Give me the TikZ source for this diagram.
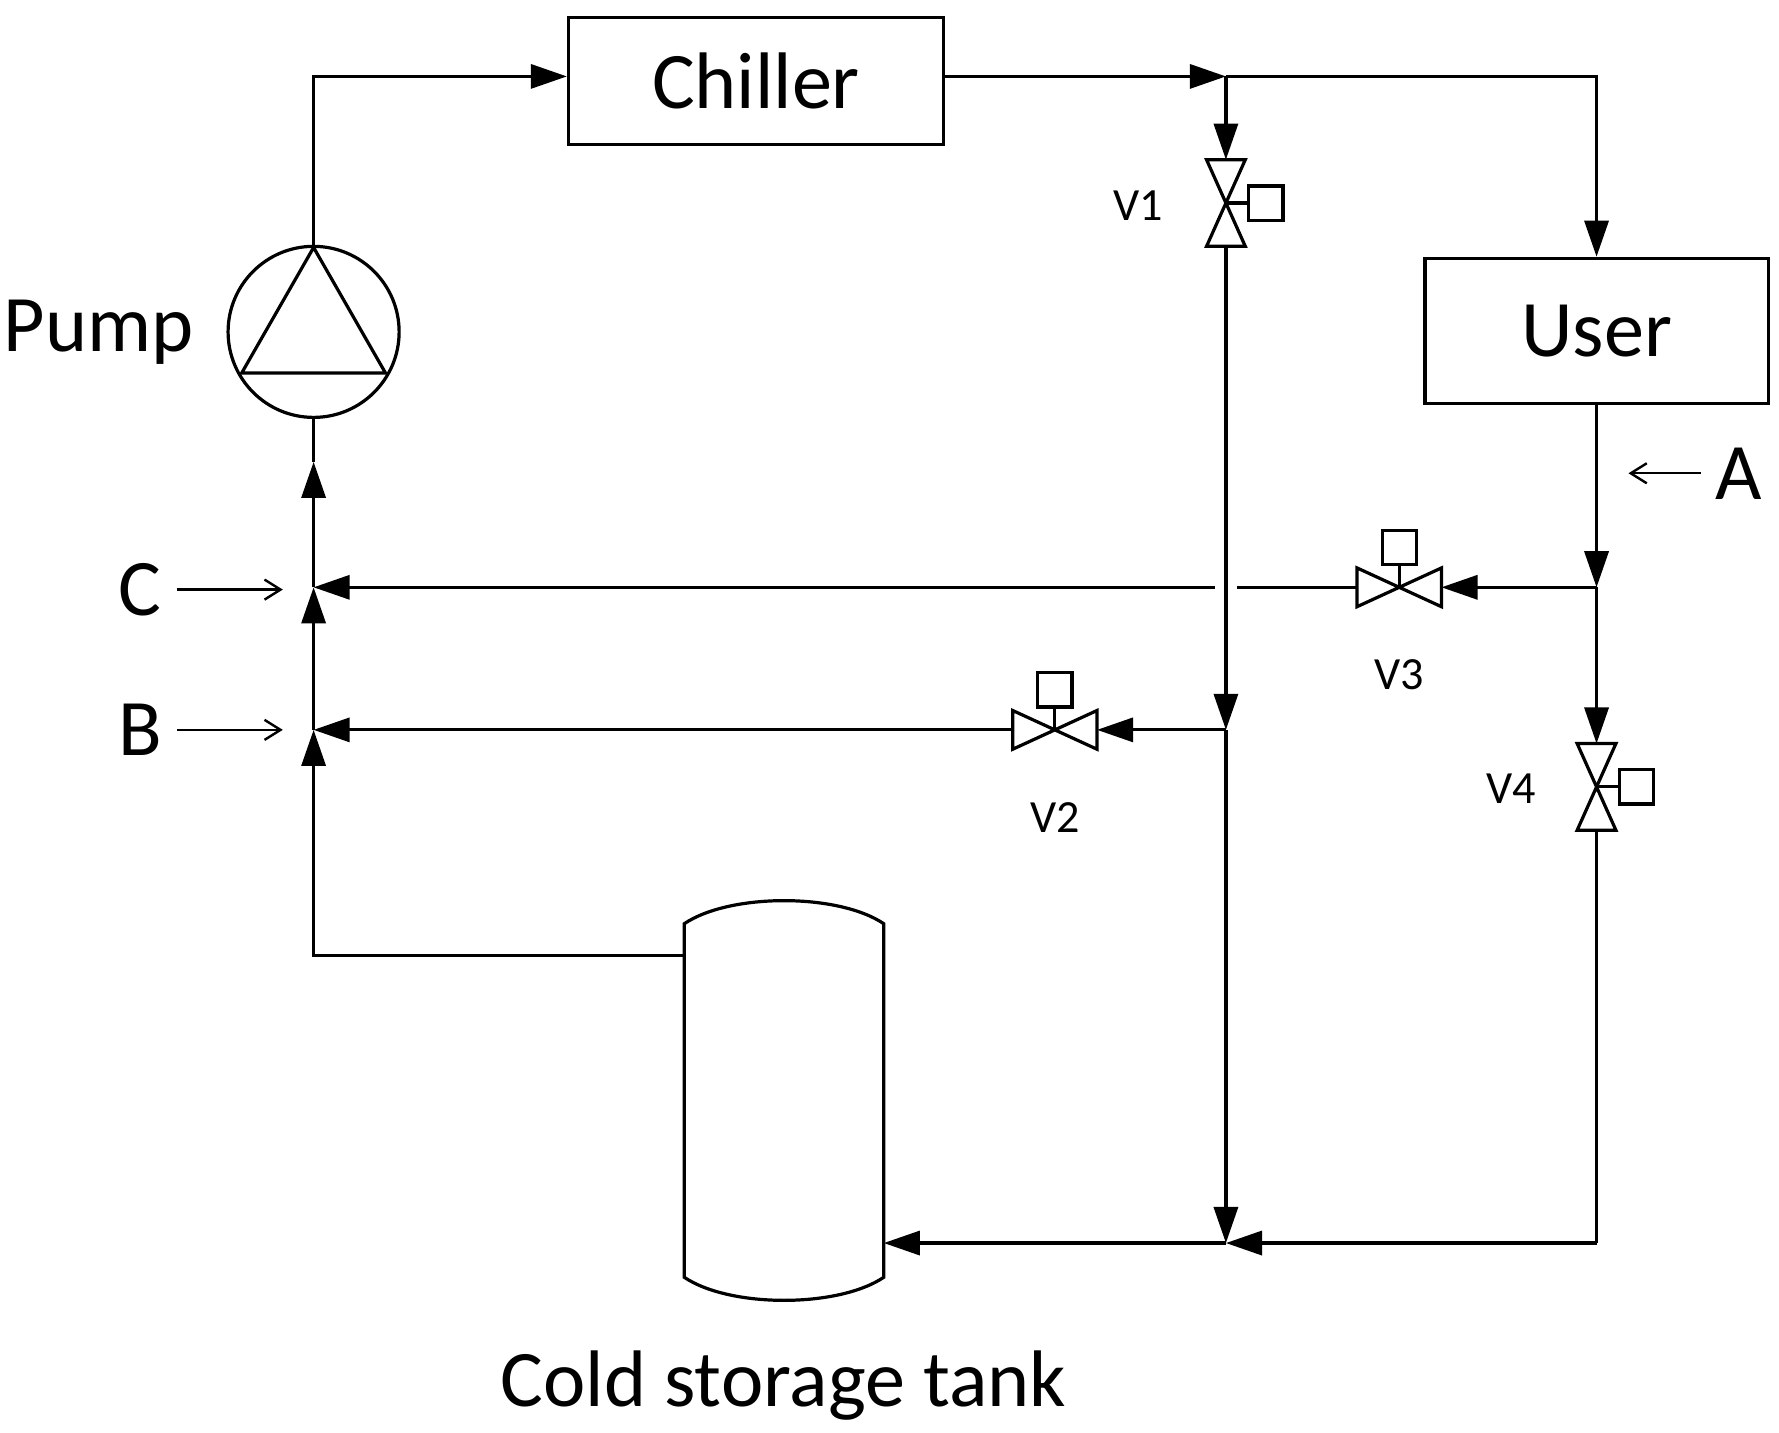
\documentclass[tikz,border=0pt]{standalone}
\usepackage{fontspec}
\setmainfont{Carlito}
\usetikzlibrary{arrows.meta,decorations.markings}
\begin{document}
\begin{tikzpicture}[x=0.01cm,y=-0.01cm,line width=0.8pt,
  flow/.style={-{Triangle[length=9pt,width=6pt]}},
  thin arrow/.style={-{Straight Barb[length=4pt,width=5pt]},line width=0.6pt},
  box/.style={draw,minimum width=329*0.01cm,inner sep=0pt},
  big/.style={font=\fontsize{20}{22}\selectfont},
  small/.style={font=\fontsize{11.5}{13}\selectfont}]
\useasboundingbox (0,0) rectangle (1560,1256);
% valve macros
\newcommand{\vvalve}[2]{% vertical valve, actuator right
  \draw (#1-17,#2-38) -- (#1+17,#2-38) -- (#1-17,#2+38) -- (#1+17,#2+38) -- cycle;
  \draw (#1,#2) -- (#1+20,#2);
  \draw (#1+20,#2-15) rectangle (#1+50,#2+15);}
\newcommand{\hvalve}[2]{% horizontal valve, actuator up
  \draw (#1-37,#2-17) -- (#1-37,#2+17) -- (#1+37,#2-17) -- (#1+37,#2+17) -- cycle;
  \draw (#1,#2) -- (#1,#2-20);
  \draw (#1-15,#2-20) rectangle (#1+15,#2-50);}
% components
\node[box,minimum height=112*0.01cm,big] (ch) at (663,71) {Chiller};
\node[box,minimum width=301*0.01cm,minimum height=127*0.01cm,big] (us) at (1400,290) {User};
\node[draw,circle,minimum size=150*0.01cm,inner sep=0pt] (pu) at (275,291) {};
\draw (275,217) -- (212,327) -- (338,327) -- cycle;
\node[big,anchor=east] at (183,291) {Pump};
% tank
\draw (600,810) .. controls (640,783) and (735,783) .. (775,810) -- (775,1120)
  .. controls (735,1147) and (640,1147) .. (600,1120) -- cycle;
\node[big] at (687,1215) {Cold storage tank};
% valves
\vvalve{1075}{178} \vvalve{1400}{690}
\hvalve{1227}{515} \hvalve{925}{640}
\node[small] at (998,180) {V1};
\node[small] at (1325,692) {V4};
\node[small] at (1227,592) {V3};
\node[small] at (925,717) {V2};
% coordinates
\coordinate (j1) at (1075,67);
\coordinate (j2) at (1400,515);
\coordinate (jb) at (275,640);
\coordinate (jc) at (275,515);
\coordinate (jv) at (1075,640);
\coordinate (jd) at (1075,1090);
% pipes
\draw[flow] (pu.north) |- (ch.west|-j1);
\draw[flow] (ch.east|-j1) -- (j1);
\draw[flow] (j1) -| (us.north);
\draw[flow] (j1) -- (1075,140);
\draw[flow] (1075,216) -- (jv);
\draw[flow] (jv) -- (jd);
\draw[flow] (jv) -- (962,640);
\draw[flow] (888,640) -- (jb);
\draw[flow] (us.south) -- (j2);
\draw[flow] (j2) -- (1400,652);
\draw[flow] (j2) -- (1264,515);
\draw (1190,515) -- (1085,515);
\draw[flow] (1065,515) -- (jc);
\draw (1400,728) -- (1400,1090);
\draw[flow] (1400,1090) -- (jd);
\draw[flow] (jd) -- (775,1090);
\draw[flow] (600,838) -| (jb);
\draw[flow] (jb) -- (jc);
\draw[flow] (jc) -- (275,405);
\draw (275,405) -- (pu.south);
% markers
\node[big] (A) at (1525,415) {A};
\node[big] (C) at (123,517) {C};
\node[big] (B) at (123,640) {B};
\draw[thin arrow] (A.west) -- (1428,415);
\draw[thin arrow] (C.east) -- (248,517);
\draw[thin arrow] (B.east) -- (248,640);
\end{tikzpicture}
\end{document}
